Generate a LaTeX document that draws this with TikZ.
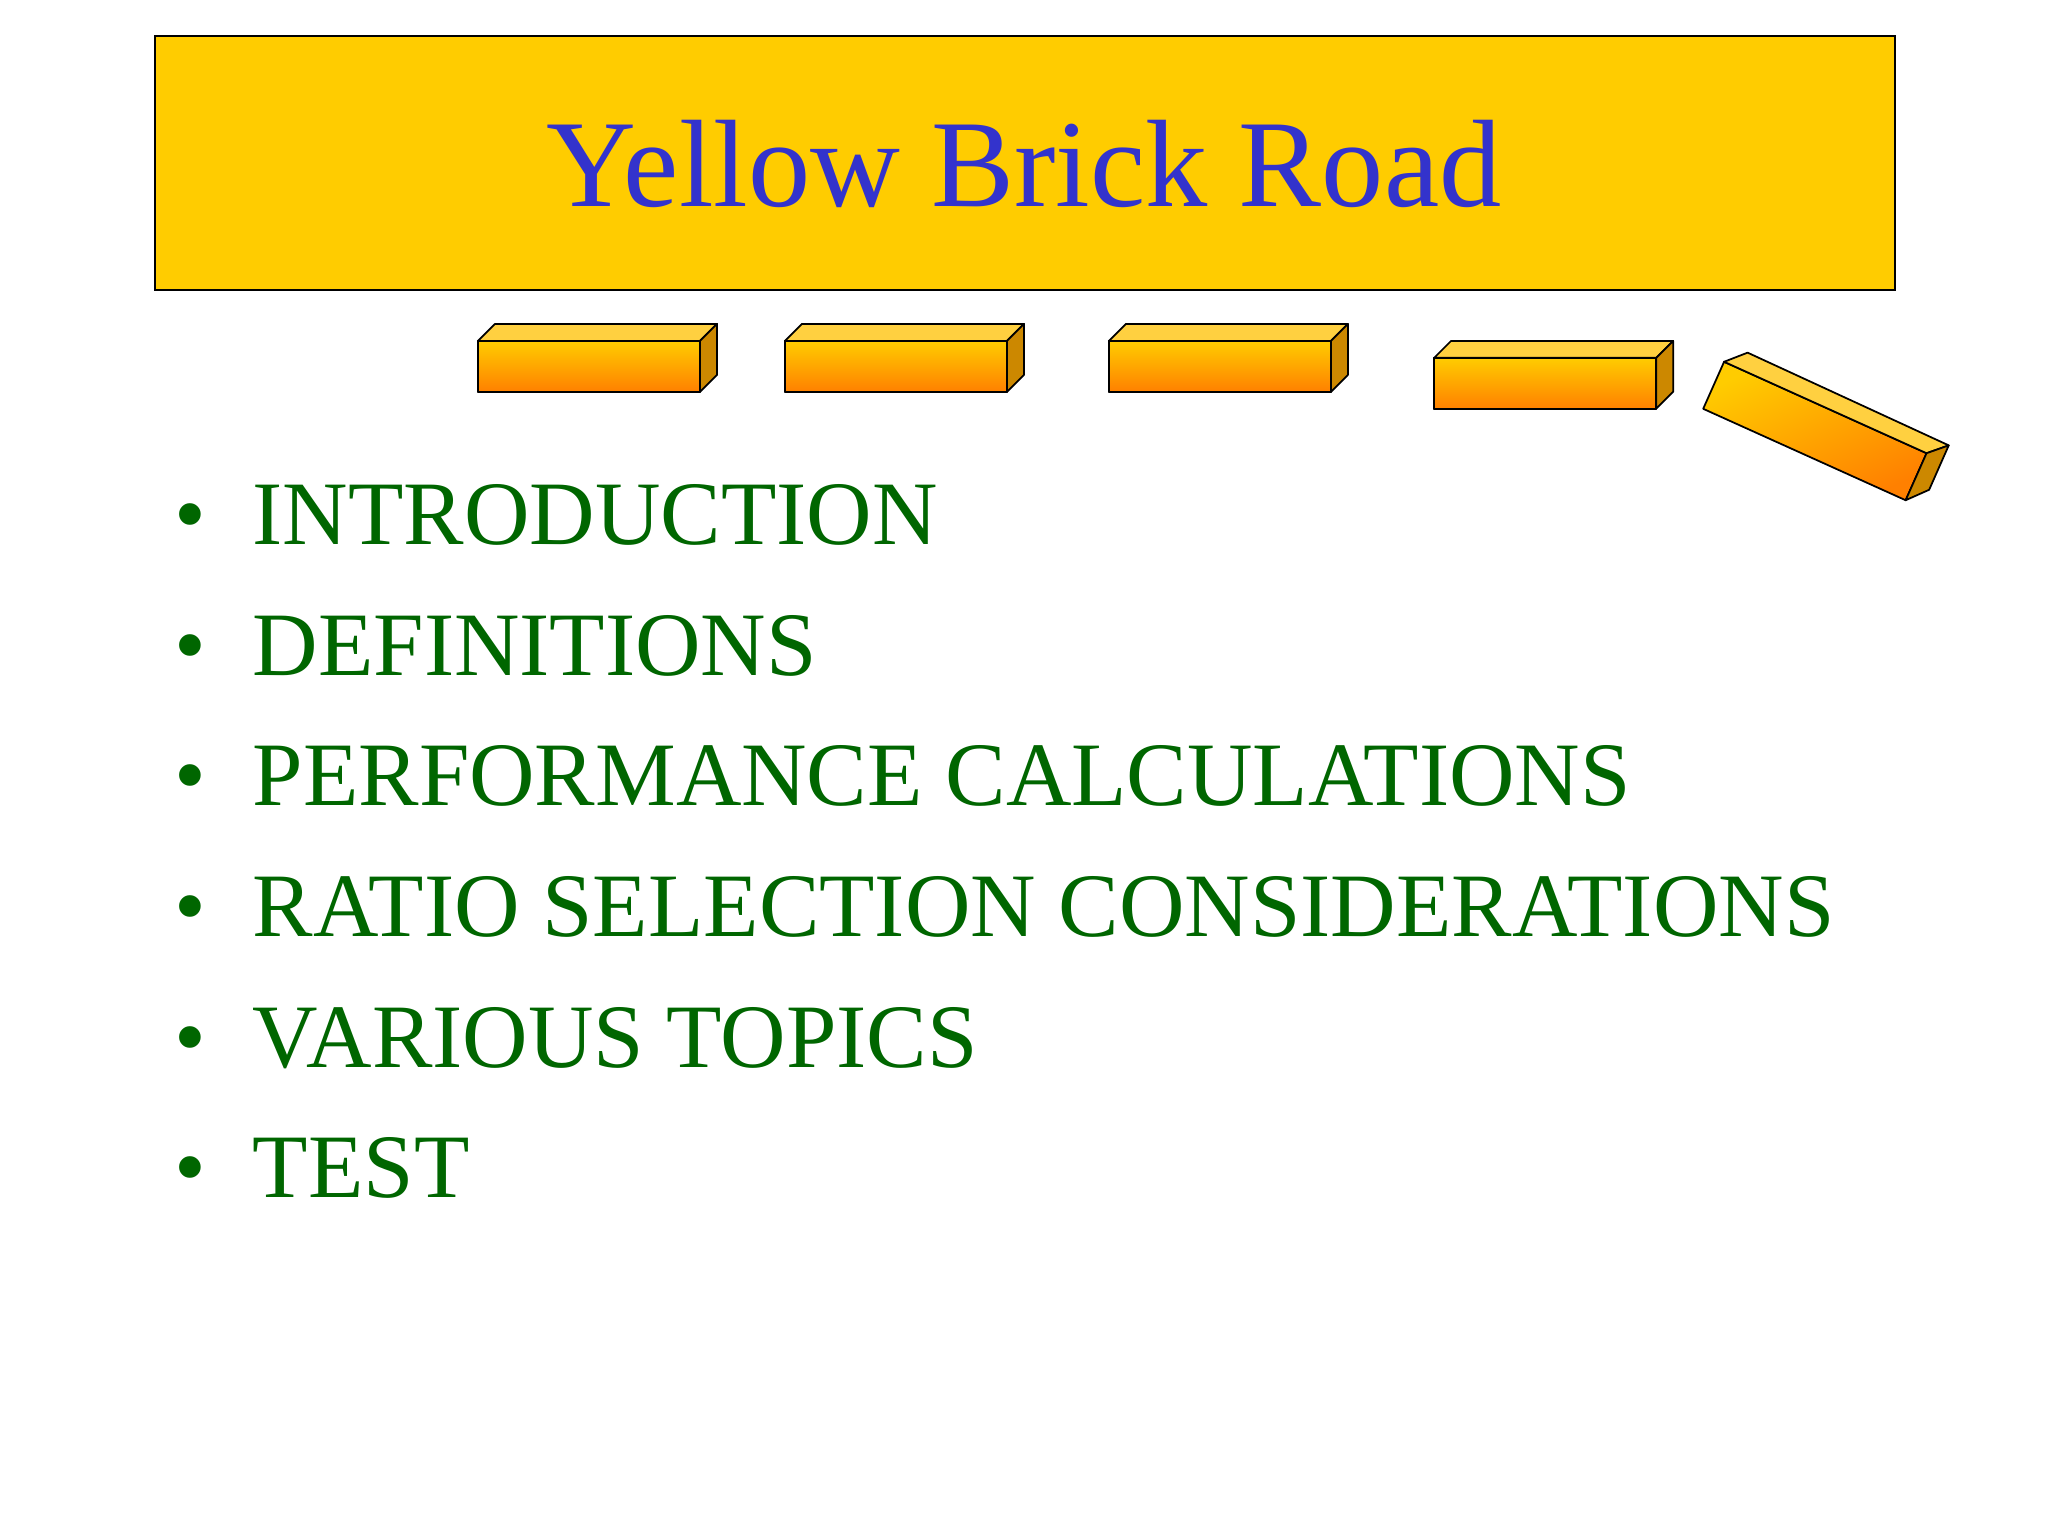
\documentclass[tikz,border=0pt]{standalone}
\usepackage{fontspec}
\setmainfont{Liberation Serif}
\definecolor{titlebg}{HTML}{FFCC00}
\definecolor{titleblue}{HTML}{3333CC}
\definecolor{bulletgreen}{HTML}{006600}
\definecolor{brickT}{HTML}{FFD040}
\definecolor{brickS}{HTML}{CC8800}
\definecolor{brickA}{HTML}{FFCC00}
\definecolor{brickB}{HTML}{FF8000}
\begin{document}
\begin{tikzpicture}[x=0.01306cm,y=-0.01306cm,
  item/.style={anchor=base west,text=bulletgreen,font=\fontsize{25.8}{30}\selectfont,inner sep=0pt},
  bface/.style={draw=black,line width=0.5pt,line join=round}]
\useasboundingbox (0,0) rectangle (1568,1176);
\fill[white] (0,0) rectangle (1568,1176);
\node[draw=black,fill=titlebg,minimum width=1332*0.01306cm,minimum height=194*0.01306cm,anchor=north west,inner sep=0pt,line width=0.6pt] (title) at (118,27) {};
\node[text=titleblue,font=\fontsize{35.4}{42}\selectfont,anchor=base] (tt) at (784,158) {Yellow Brick Road};
% straight bricks
\foreach \x/\y [count=\i] in {366/261,601/261,849/261,1098/274}{
  \fill[bface,top color=brickA,bottom color=brickB,shading angle=0] (\x,\y) rectangle ++(170,39);
  \draw[bface] (\x,\y) rectangle ++(170,39);
  \filldraw[bface,fill=brickT] (\x,\y) -- ++(13,-13) -- ++(170,0) -- ++(-13,13) -- cycle;
  \filldraw[bface,fill=brickS] (\x+170,\y) -- ++(13,-13) -- ++(0,39) -- ++(-13,13) -- cycle;
}
% tilted brick
\shade[top color=brickA,bottom color=brickB,shading angle=25] (1320,277) -- (1475,347) -- (1459,383) -- (1304,313) -- cycle;
\draw[bface] (1320,277) -- (1475,347) -- (1459,383) -- (1304,313) -- cycle;
\filldraw[bface,fill=brickT] (1320,277) -- (1338,270) -- (1492,341) -- (1475,347) -- cycle;
\filldraw[bface,fill=brickS] (1475,347) -- (1492,341) -- (1477,375) -- (1459,383) -- cycle;
% bullets
\foreach \t [count=\i] in {INTRODUCTION,DEFINITIONS,PERFORMANCE CALCULATIONS,RATIO SELECTION CONSIDERATIONS,VARIOUS TOPICS,TEST}{
  \node[item] (b\i) at (193,{317+100*\i}) {\t};
  \node[item,anchor=base] (d\i) at (146,{317+100*\i}) {•};
}
\end{tikzpicture}
\end{document}
